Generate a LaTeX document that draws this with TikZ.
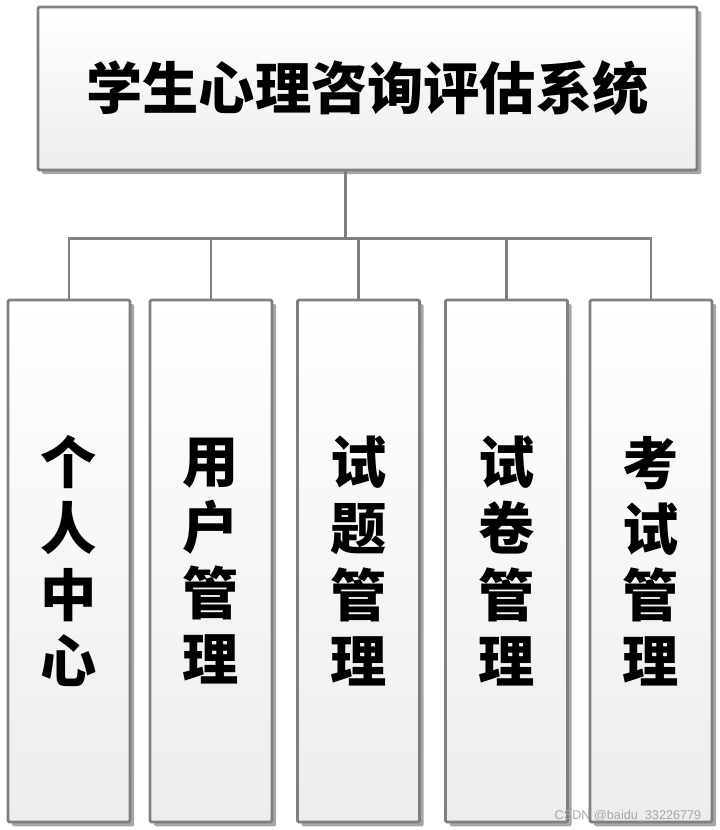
\documentclass[tikz,border=0pt]{standalone}
\usepackage{fontspec}
\newfontfamily\cjk{Noto Sans CJK SC}
\setsansfont{Liberation Sans}
\usepackage{tikz}
\usetikzlibrary{calc, positioning, shadows}
\definecolor{edgegray}{HTML}{7F7F7F}
\definecolor{boxbottom}{HTML}{EDEDED}
\tikzset{
    auto, node distance=0.5cm and 0.5cm,% gap between the module boxes
}

\begin{document}
\begin{tikzpicture}
            [x=0.025cm, y=-0.025cm,
            box/.style={draw=edgegray, line width=2pt, rounded corners=1pt,
                top color=white, bottom color=boxbottom,
                drop shadow={shadow xshift=3pt, shadow yshift=-3pt, fill=black, opacity=0.35},
                font=\cjk\bfseries, inner sep=0pt},
            modbox/.style={box, minimum width=3.05cm, minimum height=13.05cm,
                align=center, font=\cjk\bfseries\fontsize{40}{47}\selectfont},
            link/.style={draw=edgegray, line width=2pt}
            ]
            \useasboundingbox (0,0) rectangle (720,830);
            \node(sys) [box, minimum width=16.475cm, minimum height=4.075cm,
                font=\cjk\bfseries\fontsize{40}{47}\selectfont] at (367.5,88.5) {学生心理咨询评估系统};
            \node(m1) [modbox] at (69,561) {个\\人\\中\\心};
            \node(m2) [modbox] at (211,561) {用\\户\\管\\理};
            \node(m3) [modbox] at (358.5,561) {试\\题\\管\\理};
            \node(m4) [modbox] at (506.5,561) {试\\卷\\管\\理};
            \node(m5) [modbox] at (651,561) {考\\试\\管\\理};
            % tree connectors
            \coordinate(root) at ($(sys.south west)!0.467!(sys.south east)$);
            \coordinate(bus) at ($(root)+(0,67)$);
            \draw[link] (root) -- (bus);
            \draw[link] (m1.north) |- (bus) -| (m5.north);
            \draw[link] (m2.north) -- (m2.north |- bus);
            \draw[link] (m3.north) -- (m3.north |- bus);
            \draw[link] (m4.north) -- (m4.north |- bus);
            \node(mark) [font=\sffamily\fontsize{9}{9}\selectfont, text=gray!70, inner sep=0pt]
                at (628,816) {CSDN @baidu\_33226779};
        \end{tikzpicture}
\end{document}
